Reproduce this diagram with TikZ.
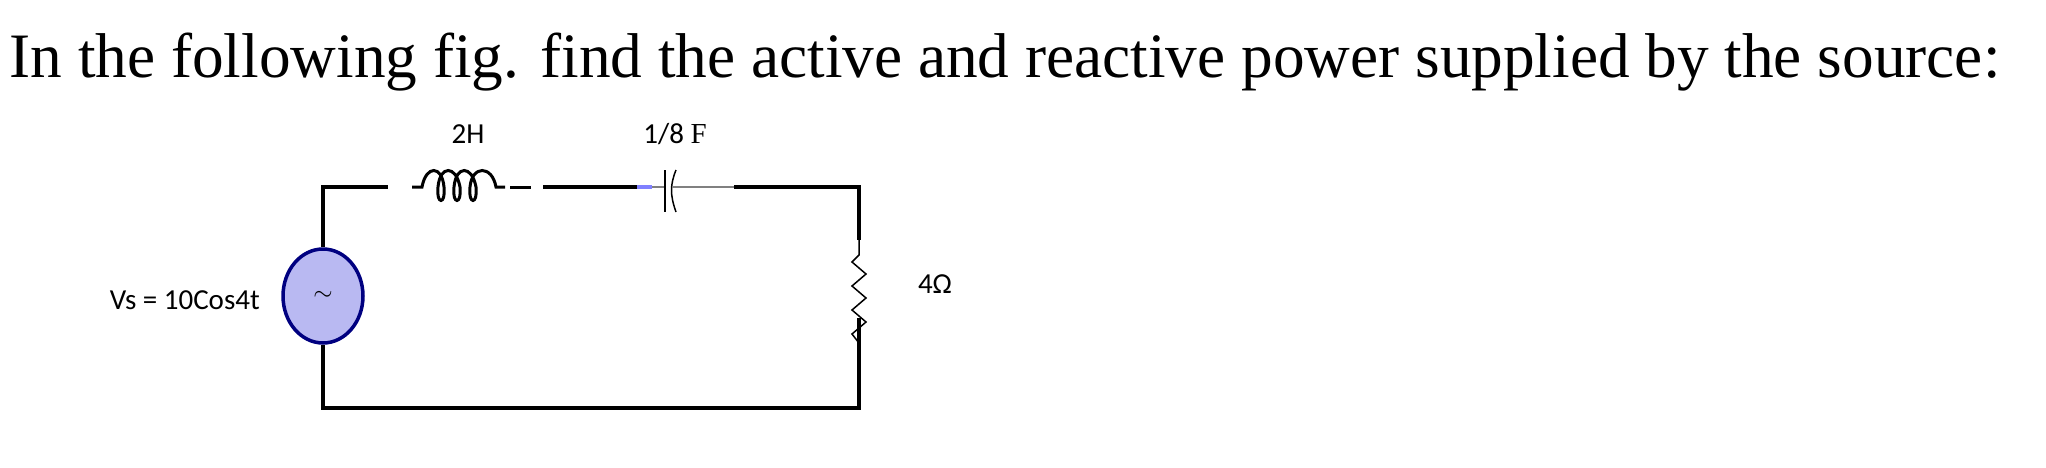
\documentclass[tikz,border=0pt]{standalone}
\usepackage{fontspec}
\setmainfont{Liberation Serif}
\newfontfamily\lab{Carlito}
\usetikzlibrary{shapes.geometric}
\begin{document}
\begin{tikzpicture}[x=1pt,y=-1pt,
  wire/.style={line width=3.5pt},
  lbl/.style={font=\lab\fontsize{29}{32}\selectfont,inner sep=0pt}]
\useasboundingbox (0,0) rectangle (2046,467);
\node[inner sep=0pt] (title) at (1005,62) {\resizebox{1990pt}{!}{In the following fig. find the active and reactive power supplied by the source:}};
% wires
\coordinate (tl) at (323,187); \coordinate (tr) at (859,187);
\coordinate (bl) at (323,408); \coordinate (br) at (859,408);
\node[draw=blue!50!black,line width=3.5pt,fill=blue!25!white!90!gray,ellipse,minimum width=80,minimum height=94,inner sep=0pt] (src) at (323,296) {};
\node[font=\fontsize{34}{34}\selectfont] at (src) {$\sim$};
\draw[wire] (src.north) -- (tl) -- (388,187);
\draw[wire] (src.south) -- (bl) -- (br) -- (859,318);
% inductor
\draw[line width=3pt] (412,187) -- (422,187) .. controls (426,165) and (442,165) .. (444,187)
  .. controls (446,205) and (436,205) .. (438,187)
  .. controls (440,165) and (456,165) .. (460,187)
  .. controls (462,205) and (452,205) .. (454,187)
  .. controls (456,165) and (472,165) .. (476,187)
  .. controls (478,205) and (468,205) .. (470,187)
  .. controls (472,165) and (492,165) .. (496,187) -- (505,187);
\draw[line width=3pt] (510,187) -- (531,187);
\draw[wire] (543,187) -- (637,187);
\draw[line width=3.5pt,blue!50] (637,187) -- (652,187);
\draw[line width=1.5pt,gray] (652,187) -- (665,187);
\draw[line width=1.5pt] (665,170) -- (665,212);
\draw[line width=1.5pt] (676,170) .. controls (670,185) and (670,195) .. (676,212);
\draw[line width=1.5pt,gray] (672,187) -- (734,187);
\draw[wire] (734,187) -- (tr) -- (859,240);
\draw[line width=1.5pt] (859,240) -- (859,255) -- (852,262) -- (866,274) -- (852,286) -- (866,298) -- (852,310) -- (866,322) -- (852,334) -- (859,343);
\draw[line width=1.5pt] (859,343) -- (859,360);
\draw[wire] (859,360) -- (br);
\node[lbl] (l2h) at (468,134) {2H};
\node[lbl] (lc) at (675,134) {1/8 \textrm{F}};
\node[lbl] (lr) at (935,284) {4Ω};
\node[lbl,anchor=east] (lv) at (260,300) {Vs = 10Cos4t};
\end{tikzpicture}
\end{document}
